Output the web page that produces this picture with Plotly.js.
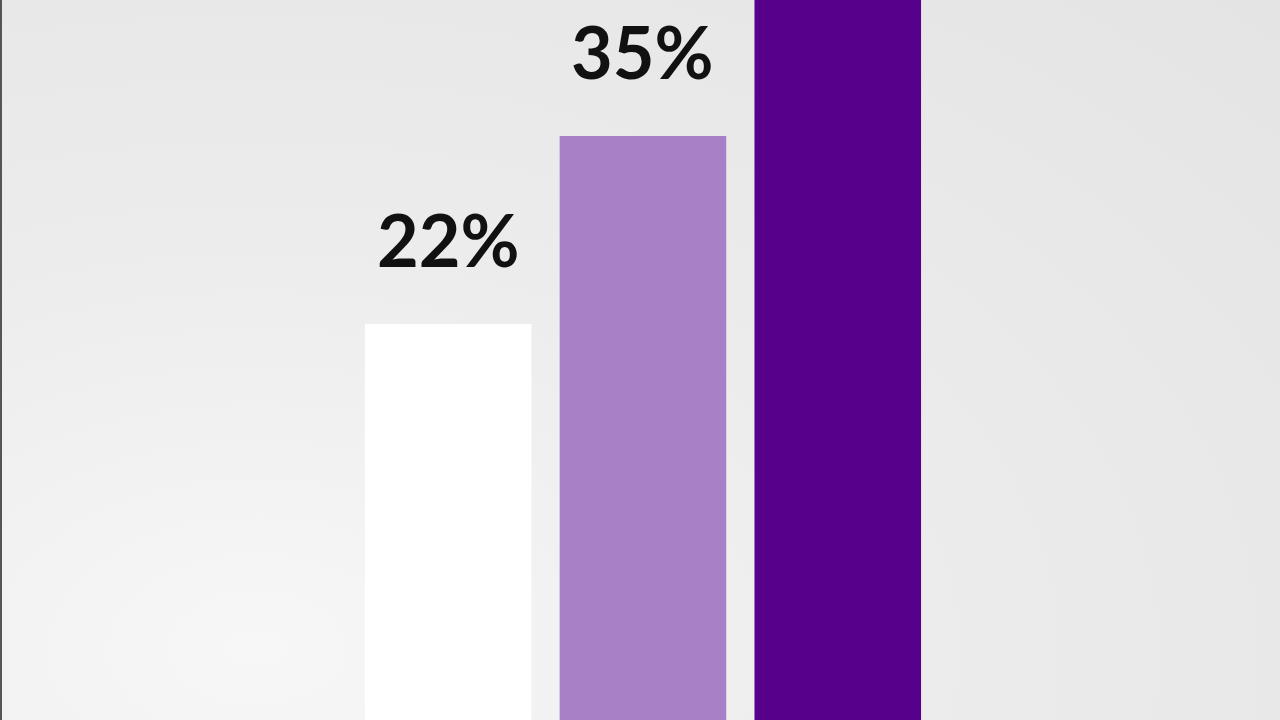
<!DOCTYPE html>
<html>
<head>
<meta charset="utf-8">
<script src="https://cdn.plot.ly/plotly-3.0.1.min.js"></script>
<style>
  html, body { margin: 0; padding: 0; }
  body {
    width: 1280px; height: 720px; overflow: hidden;
    background: radial-gradient(ellipse at 20% 90%, #f7f7f7 0%, #ececec 45%, #e4e4e4 100%);
  }
  #chart { width: 1280px; height: 720px; border-left: 2px solid #555; box-sizing: border-box; }
</style>
</head>
<body>
<div id="chart"></div>
<script>
const categories = [0, 1, 2];
const values = [22, 35, 50];
const labels = ['22%', '35%', ''];
const barColors = ['#ffffff', '#a880c6', '#56008c'];

const trace = {
  x: categories,
  y: values.map(v => v + 10),
  base: -10,
  type: 'bar',
  marker: { color: barColors, line: { width: 0 } },
  hoverinfo: 'skip'
};

const annotations = categories
  .map((c, i) => ({
    x: c,
    y: values[i],
    text: labels[i],
    showarrow: false,
    yanchor: 'bottom',
    yshift: 40,
    font: { family: 'Lato, sans-serif', size: 72, weight: 'bold', color: '#111111' }
  }))
  .filter(a => a.text);

const layout = {
  width: 1278,
  height: 720,
  margin: { l: 0, r: 0, t: 0, b: 0 },
  paper_bgcolor: 'rgba(0,0,0,0)',
  plot_bgcolor: 'rgba(0,0,0,0)',
  showlegend: false,
  bargap: 0.145,
  xaxis: { range: [-2.29, 4.27], visible: false, fixedrange: true },
  yaxis: { range: [-5.39, 44.4], visible: false, fixedrange: true },
  annotations: annotations
};

Plotly.newPlot('chart', [trace], layout, { displayModeBar: false, staticPlot: true });
</script>
</body>
</html>
